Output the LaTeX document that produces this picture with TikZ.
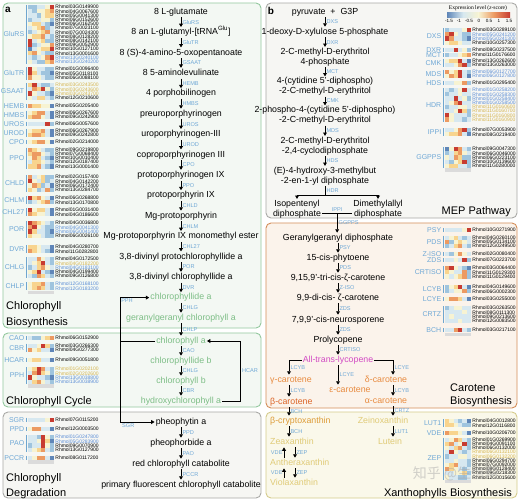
\documentclass[tikz,border=0pt]{standalone}
\usepackage{fontspec}
\setmainfont{Liberation Sans}
\newfontfamily\serifx{Liberation Serif}
\newfontfamily\cjkx{Noto Sans CJK SC}
\usetikzlibrary{arrows.meta,calc}

\definecolor{hmA}{HTML}{5F86B8}
\definecolor{hmB}{HTML}{9FC4DE}
\definecolor{hmC}{HTML}{D7E8F0}
\definecolor{hmD}{HTML}{F7F3D2}
\definecolor{hmE}{HTML}{F8D48E}
\definecolor{hmF}{HTML}{EC9A62}
\definecolor{hmG}{HTML}{C73B31}
\definecolor{enzblue}{HTML}{6FA8D6}
\definecolor{barblue}{HTML}{6FA6CF}
\definecolor{chlgreen}{HTML}{7DBE86}
\definecolor{genblue}{HTML}{5B8DD6}
\definecolor{genyel}{HTML}{D6B550}
\definecolor{lyc}{HTML}{D24BC4}
\definecolor{carot}{HTML}{E88B40}
\definecolor{bcar}{HTML}{DC6528}
\definecolor{bcx}{HTML}{DD9C38}
\definecolor{xan}{HTML}{E0CB78}
\definecolor{grD}{HTML}{93C89E}
\definecolor{grF}{HTML}{F3F8F3}
\definecolor{gyD}{HTML}{A9A9A6}
\definecolor{gyF}{HTML}{F6F6F3}
\definecolor{orD}{HTML}{D48D58}
\definecolor{orF}{HTML}{FBF3EB}
\definecolor{yeD}{HTML}{D5CB8C}
\definecolor{yeF}{HTML}{FAF8EA}

\tikzset{
 panel/.style={rounded corners=5pt,line width=0.9pt},
 cpd/.style={font=\fontsize{8.8}{9.8}\selectfont,inner sep=1pt,text height=6.4pt,text depth=1.9pt},
 cpdm/.style={font=\fontsize{8.8}{9.6}\selectfont,inner sep=1pt,align=center},
 enz/.style={font=\fontsize{5.6}{5.6}\selectfont,text=enzblue,inner sep=0.5pt},
 rxn/.style={line width=1pt,-{Triangle[length=3.4pt,width=3.8pt]}},
 blk/.style={line width=1pt},
 gene/.style={font=\fontsize{5}{5}\selectfont,inner sep=0pt,anchor=west},
 glab/.style={font=\fontsize{7}{7}\selectfont,text=enzblue,anchor=east,inner sep=0pt},
 hbar/.style={draw=barblue,line width=1.3pt},
 ptitle/.style={font=\fontsize{11}{11}\selectfont,inner sep=0pt,anchor=base west},
}

\newcounter{gn}
\def\cw{4.3}
\def\rh{4.2}
\def\hx{0}
\def\hy{0}
\def\drawcells#1#2#3#4#5#6{%
 \fill[hm#1] (\hx,\hy) rectangle ++(\cw,\rh);
 \fill[hm#2] ({\hx+\cw},\hy) rectangle ++(\cw,\rh);
 \fill[hm#3] ({\hx+2*\cw},\hy) rectangle ++(\cw,\rh);
 \fill[hm#4] ({\hx+3*\cw},\hy) rectangle ++(\cw,\rh);
 \fill[hm#5] ({\hx+4*\cw},\hy) rectangle ++(\cw,\rh);
 \fill[hm#6] ({\hx+5*\cw},\hy) rectangle ++(\cw,\rh);}
\newcommand\grp[4]{%
 \xdef\hx{#2}\xdef\hy{#3}%
 \foreach \cc/\gid/\gcol in {#4}{%
   \expandafter\drawcells\cc
   \stepcounter{gn}%
   \node[gene,text=\gcol] (gene\arabic{gn}) at ({\hx+6*\cw+1.4},{\hy+0.5*\rh}) {\gid};
   \pgfmathsetmacro\hytmp{\hy+\rh}\xdef\hy{\hytmp}%
 }%
 \draw[hbar] ({#2-1.6},#3) -- ({#2-1.6},\hy);
 \node[glab] (lab#1) at ({#2-3.6},{(#3+\hy)/2}) {#1};
}
\newcommand\hstrip{\fill[gray!28] (\hx,{\hy+0.4}) rectangle ++({6*\cw},3.4);}

\begin{document}
\begin{tikzpicture}[x=1pt,y=-1pt]
\useasboundingbox (0,0) rectangle (520,501);
\fill[white] (0,0) rectangle (520,501);

% ---------- panels
\draw[panel,draw=grD,fill=grF] (3,3) rectangle (261,328);
\draw[panel,draw=grD,fill=grF] (3,333) rectangle (261,407);
\draw[panel,draw=gyD,fill=gyF] (3,412) rectangle (261,498);
\draw[panel,draw=gyD,fill=gyF] (266,3) rectangle (517,218);
\draw[panel,draw=orD,fill=orF] (266,223) rectangle (517,408);
\draw[panel,draw=yeD,fill=yeF] (266,412) rectangle (517,498);

\node[font=\bfseries\fontsize{10}{10}\selectfont,inner sep=0] (pa) at (8,10) {a};
\node[font=\bfseries\fontsize{10}{10}\selectfont,inner sep=0] (pb) at (271,11) {b};

% ---------- left heatmaps
\grp{GluRS}{28}{5}{BBCCDG/Rhmol03G0149900/black, CBDDEF/Rhmol04G0067600/black, CCBDEE/Rhmol05G0041300/black, BCCDDB/Rhmol06G0152600/black, DEECBA/Rhmol06G0162500/black, CDEFBC/Rhmol07G0023100/black, BCDEFC/Rhmol07G0024300/black, DEEFCB/Rhmol08G0128200/black, GCDEBB/Rhmol08G0142100/black, GBCDDF/Rhmol09G0052900/black, ACDEEG/Rhmol10G0127100/black, EFDCBB/Rhmol13G0001600/black, CBCDFG/Rhmol13G0240100/genblue, DCBBEF/Rhmol13G0240200/genblue}
\grp{GluTR}{28}{67}{GDCCBB/Rhmol01G0096400/black, GECBBA/Rhmol05G0118100/black, FDDCBB/Rhmol06G0088100/black}
\grp{GSAAT}{28}{83}{EGCBBC/Rhmol03G0243500/genyel, CFEGDB/Rhmol03G0243600/genyel, GDCCBA/Rhmol03G0243700/genyel, DCEECB/Rhmol12G0210600/black}
\grp{HEMB}{28}{103.5}{FEEDDA/Rhmol05G0205400/black}
\grp{HMBS}{28}{110.5}{DEFFCA/Rhmol06G0267600/black, EFFDCA/Rhmol09G0242900/black}
\grp{UROS}{28}{121.5}{CCCCGB/Rhmol06G0057600/black}
\grp{UROD}{28}{128.5}{DEEFCA/Rhmol06G0267900/black, EFFECA/Rhmol09G0242800/black}
\grp{CPO}{28}{139.5}{DEFFDA/Rhmol02G0214000/black}
\grp{PPO}{28}{147.5}{FEDCBB/Rhmol09G0219800/black, EFFDCB/Rhmol07G0068400/black, DFECBA/Rhmol10G0010400/black, CEEDCB/Rhmol12G0187400/black, EEFCBA/Rhmol13G0001400/black}
\grp{CHLD}{28}{175}{FCDEBB/Rhmol02G0157400/black, GDCEBC/Rhmol04G0142200/black, DFEBCA/Rhmol06G0172400/black, EDBCFB/Rhmol13G0284700/black}
\grp{CHLM}{28}{196}{GEFDCA/Rhmol06G0268800/black, BCDEFB/Rhmol13G0170800/black}
\grp{CHL27}{28}{208}{GDEECA/Rhmol01G0031400/black, FEDDCA/Rhmol04G0186600/black}
\grp{POR}{28}{221}{GFEDCB/Rhmol04G0036800/black, FGDCBB/Rhmol04G0041300/genblue, GECCBA/Rhmol06G0041400/genblue, EDDCBB/Rhmol06G0026100/black}
\grp{DVR}{28}{245}{EEDCCA/Rhmol04G0280700/black, FEDCBA/Rhmol11G0282800/black}
\grp{CHLG}{28}{257}{CCFDCB/Rhmol04G0172500/black, CDEGCB/Rhmol04G0182200/genyel, BCEFDC/Rhmol04G0183100/genblue, DEGCBA/Rhmol04G0199400/black, CBFECB/Rhmol09G0126800/black}
\grp{CHLP}{28}{282}{DEEFCB/Rhmol12G0168100/genblue, DEFECB/Rhmol12G0183200/genblue}
\hstrip
\grp{CAO}{28}{336}{CBBDEF/Rhmol06G0152900/black}
\grp{CBR}{28}{343.5}{CCDGEB/Rhmol03G0266300/black, FDECCA/Rhmol04G0277300/black}
\grp{HCAR}{28}{357.5}{DEECCA/Rhmol09G0051800/black}
\grp{PPH}{28}{367}{DEGFCB/Rhmol01G0202100/genyel, CFGEDB/Rhmol02G0202600/genyel, GDCCBA/Rhmol13G0038800/genblue, CEFDCB/Rhmol13G0038900/genblue}
\hstrip
\grp{SGR}{28}{417.5}{CCCCDG/Rhmol07G0115200/black}
\grp{PPD}{28}{426.5}{DFFCCA/Rhmol12G0003500/black}
\grp{PAO}{28}{435}{CCBGDB/Rhmol01G0247800/genblue, CCDGEA/Rhmol05G0283900/genblue, BCCGDB/Rhmol09G0070900/black, CDEFCB/Rhmol13G0127900/black}
\grp{PCCR}{28}{455.5}{CDFFCA/Rhmol08G0117200/black}
\hstrip

% ---------- right heatmaps
\grp{DXS}{445}{28}{BCCCDG/Rhmol03G0289100/black, FGDCBB/Rhmol05G0241200/genblue, GFCCBA/Rhmol05G0241300/genblue, DEEDCC/Rhmol10G0257300/black}
\grp{DXR}{445}{47.5}{CCGCDB/Rhmol08G0237500/black}
\grp{MCT}{445}{52.8}{BCCDEF/Rhmol11G0176600/black}
\grp{CMK}{445}{58.5}{DEEGCA/Rhmol13G0262600/black, CCDFGB/Rhmol13G0263000/black}
\grp{MDS}{445}{69.5}{FDEGCB/Rhmol06G0127700/genblue, DFEGCA/Rhmol06G0127800/genblue}
\grp{HDS}{445}{80.5}{CCDDFB/Rhmol01G0295400/black}
\grp{HDR}{445}{88}{CBCDGC/Rhmol01G0258200/genblue, BCCDCC/Rhmol01G0258300/genblue, CCGCDB/Rhmol01G0258400/genblue, CDFGCC/Rhmol01G0258500/genblue, BCCDDC/Rhmol11G0160600/genyel, CCDGEB/Rhmol11G0160700/genyel, GDCCCB/Rhmol11G0160800/genyel, FDCCBC/Rhmol11G0160900/genyel}
\grp{IPPI}{445}{128}{CCDFGB/Rhmol07G0053900/black, DEEFCA/Rhmol08G0219400/black}
\grp{GGPPS}{445}{147}{ADGFCB/Rhmol09G0047300/black, BCEFDC/Rhmol06G0046000/black, DCFEBB/Rhmol06G0223100/black, CBDEGB/Rhmol10G0139600/black, DEECCB/Rhmol11G0280000/black}
\hstrip
\grp{PSY}{445}{228}{CCCCDG/Rhmol10G0271900/black}
\grp{PDS}{445}{235.5}{CDECBC/Rhmol04G0260100/black, FBDEDC/Rhmol05G0134100/black, BCEFCB/Rhmol12G0249500/black}
\grp{Z-ISO}{445}{252}{CBDFDC/Rhmol02G0080400/black}
\grp{ZDS}{445}{258}{CCDCGB/Rhmol07G0223700/black}
\grp{CRTISO}{445}{266}{FGDCBA/Rhmol03G0064400/black, EDCCFB/Rhmol11G0129300/black, DCDEFB/Rhmol11G0129400/black}
\grp{LCYB}{445}{285}{BDEGCA/Rhmol04G0149600/black, BCDDFB/Rhmol06G0002300/black}
\grp{LCYE}{445}{297}{DFFECA/Rhmol03G0255000/black}
\grp{CRTZ}{445}{306}{BCDDCC/Rhmol03G0263500/black, CCCCDC/Rhmol08G0111300/black, CDCCCC/Rhmol09G0213600/black, CCCDCC/Rhmol12G0083500/black}
\grp{BCH}{445}{328}{CCFGCB/Rhmol03G0217100/black}
\hstrip
\grp{LUT1}{445}{419}{EDCBCA/Rhmol04G0012800/black, EEDCBB/Rhmol12G0116800/black}
\grp{VDE}{445}{430.5}{FEEDCA/Rhmol10G0206700/black}
\grp{ZEP}{445}{437.5}{CDFECB/Rhmol01G0269900/black, EFCDGB/Rhmol04G0091100/black, DCEFCB/Rhmol06G0132000/black, CGDCBC/Rhmol06G0132100/genyel, BCCDDC/Rhmol06G0132200/genyel, CCDCCB/Rhmol06G0294700/black, DEFCCB/Rhmol07G0092000/black, FEDCBC/Rhmol08G0128400/black, CCDDEB/Rhmol09G0218300/black, DCCBBC/Rhmol12G0015600/black}
\hstrip

% ---------- legend
\node[font=\serifx\fontsize{5.6}{5.6}\selectfont,inner sep=0] (legt) at (478,8) {Expression level (\textit{z}-score)};
\shade[left color=hmA,right color=hmC] (447,12) rectangle (463,17);
\shade[left color=hmC,right color=hmD] (463,12) rectangle (478.5,17);
\shade[left color=hmD,right color=hmF] (478.5,12) rectangle (494,17);
\shade[left color=hmF,right color=hmG] (494,12) rectangle (510,17);
\foreach \v [count=\i] in {-1.5,-1,-0.5,0,0.5,1,1.5}
  \node[font=\fontsize{4.6}{4.6}\selectfont,inner sep=0] (tk\i) at ({449+(\i-1)*10},21) {\v};

% ---------- chlorophyll pathway
\node[cpd] (c1) at (181,12) {8 L-glutamate};
\node[cpd] (c2) at (181,32.4) {8 an L-glutamyl-[tRNA\textsuperscript{Glu}]};
\node[cpd] (c3) at (181,52.8) {8 (S)-4-amino-5-oxopentanoate};
\node[cpd] (c4) at (181,73.2) {8 5-aminolevulinate};
\node[cpd] (c5) at (181,93.6) {4 porphobilinogen};
\node[cpd] (c6) at (181,114) {preuroporphyrinogen};
\node[cpd] (c7) at (181,134.4) {uroporphyrinogen-III};
\node[cpd] (c8) at (181,154.8) {coproporphyrinogen III};
\node[cpd] (c9) at (181,175.2) {protoporphyrinogen IX};
\node[cpd] (c10) at (181,195.6) {protoporphyrin IX};
\node[cpd] (c11) at (181,216) {Mg-protoporphyrin};
\node[cpd] (c12) at (181,236.4) {Mg-protoporphyrin IX monomethyl ester};
\node[cpd] (c13) at (181,256.8) {3,8-divinyl protochlorophyllide a};
\node[cpd] (c14) at (181,277.2) {3,8-divinyl chlorophyllide a};
\node[cpd,text=chlgreen] (c15) at (181,297.6) {chlorophyllide a};
\node[cpd,text=chlgreen] (c16) at (181,318) {geranylgeranyl chlorophyll a};
\node[cpd,text=chlgreen] (c17) at (181,341) {chlorophyll a};
\node[cpd,text=chlgreen] (c18) at (181,361) {chlorophyllide b};
\node[cpd,text=chlgreen] (c19) at (181,381) {chlorophyll b};
\node[cpd,text=chlgreen] (c20) at (181,401) {hydroxychlorophyll a};
\node[cpd] (c21) at (181,422) {pheophytin a};
\node[cpd] (c22) at (181,443) {pheophorbide a};
\node[cpd] (c23) at (181,464) {red chlorophyll catabolite};
\node[cpd] (c24) at (181,485) {primary fluorescent chlorophyll catabolite};

\foreach \a/\b/\e in {1/2/GluRS,2/3/GluTR,3/4/GSAAT,4/5/HEMB,5/6/HMBS,6/7/UROS,7/8/UROD,8/9/CPO,9/10/PPO,10/11/CHLD,11/12/CHLM,12/13/CHL27,13/14/POR,14/15/DVR,15/16/CHLG,16/17/CHLP,17/18/CAO,18/19/CHLG,19/20/CBR,21/22/PPD,22/23/PAO,23/24/PCCR}
  \draw[rxn] (c\a) -- node[enz,right=0.5pt] (e\a) {\e} (c\b);

\coordinate (vx) at (120,0);
\draw[blk] (c17.west) -- (vx |- c17.west);
\draw[rxn] (vx |- c17.west) |- node[enz,pos=0.62,below=0.5pt] (ePPH) {PPH} (c15.west);
\draw[rxn] (vx |- c17.west) |- node[enz,pos=0.62,below=0.5pt] (eSGR) {SGR} (c21.west);
\coordinate (hc) at (240,0);
\draw[rxn] (c20.east) -- (hc |- c20.east) -- node[enz,right=1pt] (eHCAR) {HCAR} (hc |- c17.east) -- (c17.east);

% ---------- MEP pathway
\node[cpd] (m1) at (325,12) {pyruvate\ \ +\ \ G3P};
\node[cpd] (m2) at (325,32) {1-deoxy-D-xylulose 5-phosphate};
\node[cpdm] (m3) at (325,57) {2-C-methyl-D-erythritol\\4-phosphate};
\node[cpdm] (m4) at (325,86.5) {4-(cytidine 5'-diphospho)\\-2-C-methyl-D-erythritol};
\node[cpdm] (m5) at (325,115.5) {2-phospho-4-(cytidine 5'-diphospho)\\-2-C-methyl-D-erythritol};
\node[cpdm] (m6) at (325,146) {2-C-methyl-D-erythritol\\-2,4-cyclodiphosphate};
\node[cpdm] (m7) at (325,176) {(E)-4-hydroxy-3-methylbut\\-2-en-1-yl diphosphate};
\node[cpdm] (m8) at (297,209) {Isopentenyl\\diphosphate};
\node[cpdm] (m9) at (378,209) {Dimethylallyl\\diphosphate};
\foreach \a/\b/\e in {1/2/DXS,2/3/DXR,3/4/MCT,4/5/CMK,5/6/MDS,6/7/HDS}
  \draw[rxn] (m\a) -- node[enz,right=0.5pt] (em\a) {\e} (m\b);
\coordinate (sp) at (325,195);
\draw[blk] (m7) -- node[enz,right=0.5pt] (eHDR) {HDR} (sp);
\draw[blk] (sp -| m8) -- (sp -| m9);
\draw[rxn] (sp -| m8) -- (m8);
\draw[rxn] (sp -| m9) -- (m9);
\draw[line width=0.8pt] ([yshift=-4pt]m8.east) -- node[enz,above=0.8pt] (eIPPI) {IPPI} ([yshift=-4pt]m9.west);
\coordinate (ipm) at ($([yshift=-4pt]m8.east)!0.5!([yshift=-4pt]m9.west)$);

% ---------- carotenoids
\node[cpd] (k1) at (338,238) {Geranylgeranyl diphosphate};
\node[cpd] (k2) at (338,258) {15-cis-phytoene};
\node[cpd] (k3) at (338,278) {9,15,9'-tri-cis-ζ-carotene};
\node[cpd] (k4) at (338,298) {9,9-di-cis- ζ-carotene};
\node[cpd] (k5) at (338,320) {7,9,9'-cis-neurosporene};
\node[cpd] (k6) at (338,340) {Prolycopene};
\node[cpd,text=lyc] (k7) at (338,360) {All-trans-lycopene};
\node[cpd,text=carot,anchor=west] (k8) at (269,380) {γ-carotene};
\node[cpd,text=carot] (k9) at (350,390) {ε-carotene};
\node[cpd,text=carot] (k10) at (386,380) {δ-carotene};
\node[cpd,text=bcar,anchor=west] (k11) at (269,402) {β-carotene};
\node[cpd,text=carot] (k12) at (386,401) {α-carotene};
\node[cpd,text=bcx,anchor=west] (x1) at (269,421) {β-cryptoxanthin};
\node[cpd,text=xan] (x2) at (383,421) {Zeinoxanthin};
\node[cpd,text=xan,anchor=west] (x3) at (269,442) {Zeaxanthin};
\node[cpd,text=xan] (x4) at (390,442) {Lutein};
\node[cpd,text=xan,anchor=west] (x5) at (269,463) {Antheraxanthin};
\node[cpd,text=xan,anchor=west] (x6) at (269,483) {Violaxanthin};

\draw[rxn] (ipm) -- node[enz,right=0.5pt] (eGG) {GGPPS} (ipm |- k1.north);
\foreach \a/\b/\e in {1/2/PSY,2/3/PDS,3/4/Z-ISO,4/5/ZDS,5/6/ZDS,6/7/CRTISO}
  \draw[rxn] (k\a) -- node[enz,right=0.5pt] (ek\a) {\e} (k\b);

\coordinate (lb) at (289,0);
\coordinate (rb) at (393,0);
\coordinate (va) at (284,0);
\coordinate (vz) at (295,0);
\draw[rxn] (k7.west) -| node[enz,right=0.5pt,pos=0.75] (eLB1) {LCYB} (lb |- k8.north);
\draw[rxn] (k7.east) -| node[enz,right=0.5pt,pos=0.75] (eLE2) {LCYE} (rb |- k10.north);
\draw[rxn] (k7.south) -- node[enz,right=0.5pt] (eLE1) {LCYE} (k7.south |- k9.north);
\draw[rxn] (lb |- k8.south) -- node[enz,right=0.5pt] (eLB2) {LCYB} (lb |- k11.north);
\draw[rxn] (rb |- k10.south) -- node[enz,right=0.5pt] (eLB3) {LCYB} (rb |- k12.north);
\draw[rxn] (lb |- k11.south) -- node[enz,right=0.5pt] (eBCH1) {BCH} (lb |- x1.north);
\draw[rxn] (rb |- k12.south) -- node[enz,right=0.5pt] (eCRTZ) {CRTZ} (rb |- x2.north);
\draw[rxn] (lb |- x1.south) -- node[enz,right=0.5pt] (eBCH2) {BCH} (lb |- x3.north);
\draw[rxn] (rb |- x2.south) -- node[enz,right=0.5pt] (eLUT) {LUT1} (rb |- x4.north);
\draw[rxn] (va |- x5.north) -- node[enz,left=0.5pt] (eVDE1) {VDE} (va |- x3.south);
\draw[rxn] (vz |- x3.south) -- node[enz,right=0.5pt] (eZEP1) {ZEP} (vz |- x5.north);
\draw[rxn] (va |- x6.north) -- node[enz,left=0.5pt] (eVDE2) {VDE} (va |- x5.south);
\draw[rxn] (vz |- x5.south) -- node[enz,right=0.5pt] (eZEP2) {ZEP} (vz |- x6.north);

% ---------- panel titles
\node[ptitle] (t1a) at (6,309) {Chlorophyll};
\node[ptitle] (t1b) at (6,325) {Biosynthesis};
\node[ptitle] (t2) at (6,404) {Chlorophyll Cycle};
\node[ptitle] (t3a) at (6,481) {Chlorophyll};
\node[ptitle] (t3b) at (6,496) {Degradation};
\node[ptitle,anchor=base east] (t4) at (511,214) {MEP Pathway};
\node[ptitle] (t5a) at (450,391) {Carotene};
\node[ptitle] (t5b) at (450,404) {Biosynthesis};
\node[ptitle,anchor=base east] (t6) at (512,496) {Xanthophylls Biosynthesis};

% watermark
\node[font=\cjkx\fontsize{14}{14}\selectfont,text=gray!70,opacity=0.5,inner sep=0] (wm) at (456,474) {知乎 @生信帮};
\end{tikzpicture}
\end{document}
